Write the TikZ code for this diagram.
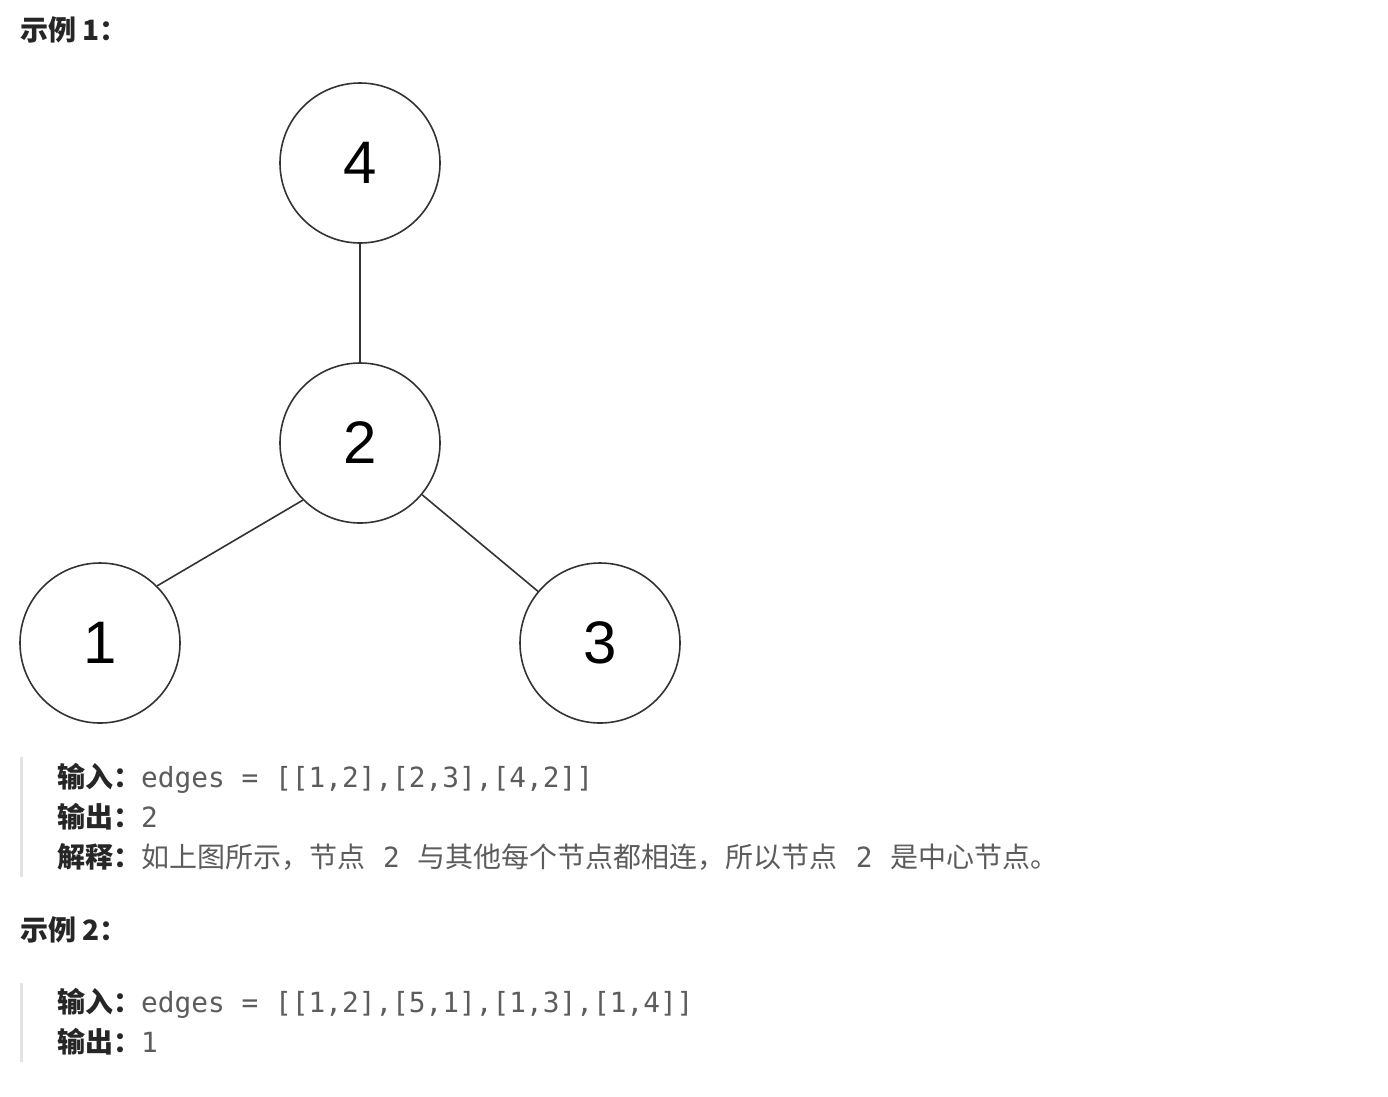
\documentclass[tikz,border=0pt]{standalone}
\usepackage{fontspec}
\setmainfont{Liberation Sans}
\newfontfamily\cjk{Noto Sans CJK SC}
\newfontfamily\codefont{DejaVu Sans Mono}
\newfontfamily\numfont{Liberation Sans}
\definecolor{titlec}{HTML}{262626}
\definecolor{textc}{HTML}{5C5C5C}
\definecolor{barc}{HTML}{E3E3E3}
\definecolor{linec}{HTML}{333333}
\newcommand{\ic}[1]{\hspace{18pt}{\codefont\fontsize{27.8}{27.8}\selectfont #1}\hspace{18pt}}
\tikzset{
  vertex/.style={circle,draw=linec,line width=1.6pt,minimum size=160pt,inner sep=0pt,font=\numfont\fontsize{60}{60}\selectfont},
  edge/.style={draw=linec,line width=1.6pt},
  heading/.style={anchor=base west,inner sep=0pt,text=titlec,font=\cjk\bfseries\fontsize{28}{28}\selectfont},
  lbl/.style={anchor=base west,inner sep=0pt,text=titlec,font=\cjk\bfseries\fontsize{28}{28}\selectfont},
  body/.style={anchor=base west,inner sep=0pt,text=textc,font=\cjk\fontsize{28}{28}\selectfont},
  code/.style={anchor=base west,inner sep=0pt,text=textc,font=\codefont\fontsize{27.8}{27.8}\selectfont},
  bar/.style={fill=barc,draw=none}
}
\begin{document}
\begin{tikzpicture}[x=1pt,y=-1pt]
\useasboundingbox[fill=white] (0,0) rectangle (1388,1096);
% title 1
\node[heading] (t1) at (20,40) {示例\hspace{6pt}1：};
% graph
\node[vertex] (n4) at (360,163) {4};
\node[vertex] (n2) at (360,443) {2};
\node[vertex] (n1) at (100,643) {1};
\node[vertex] (n3) at (600,643) {3};
\draw[edge] (n4) -- (n2);
\draw[edge] (n2.225) -- (n1.45);
\draw[edge] (n2) -- (n3);
% block 1
\fill[bar] (20,757) rectangle (23,877);
\node[lbl] (in1) at (57,787) {输入：};
\node[code] (c1) at (141,787) {edges = [[1,2],[2,3],[4,2]]};
\node[lbl] (out1) at (57,827) {输出：};
\node[code] (o1) at (141,827) {2};
\node[lbl] (ex1) at (57,867) {解释：};
\node[body] (e1) at (141,867) {如上图所示，节点\ic{2}与其他每个节点都相连，所以节点\ic{2}是中心节点。};
% title 2
\node[heading] (t2) at (20,940) {示例\hspace{6pt}2：};
% block 2
\fill[bar] (20,983) rectangle (23,1062);
\node[lbl] (in2) at (57,1012) {输入：};
\node[code] (c2) at (141,1012) {edges = [[1,2],[5,1],[1,3],[1,4]]};
\node[lbl] (out2) at (57,1052) {输出：};
\node[code] (o2) at (141,1052) {1};
\end{tikzpicture}
\end{document}
